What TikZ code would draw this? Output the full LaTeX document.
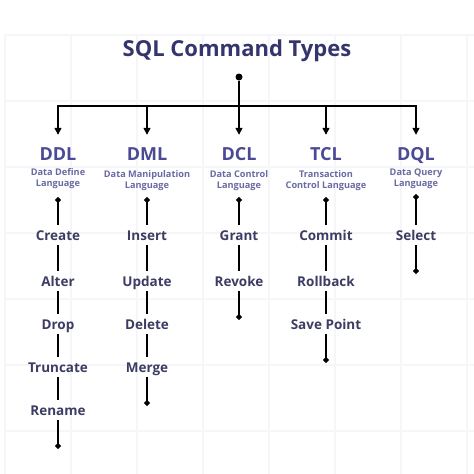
\documentclass[tikz,border=0pt]{standalone}
\usepackage{fontspec}
\setmainfont{Open Sans}
\usetikzlibrary{arrows.meta,shapes.geometric}
\definecolor{titlec}{HTML}{35356E}
\definecolor{hdrc}{HTML}{4A4A96}
\definecolor{itemc}{HTML}{3C3C64}
\definecolor{subc}{HTML}{6A6AA4}
\definecolor{gridc}{HTML}{F6F6F8}
\tikzset{
  titlenode/.style={font=\bfseries\fontsize{22}{24}\selectfont, text=titlec, inner sep=0},
  hdr/.style={font=\bfseries\fontsize{18}{20}\selectfont, text=hdrc, inner sep=0, text height=13pt, text depth=0pt},
  sub/.style={font=\bfseries\fontsize{9.2}{11}\selectfont, text=subc, align=center, inner sep=0},
  item/.style={font=\bfseries\fontsize{13.5}{16}\selectfont, text=itemc, inner sep=0, text height=10pt, text depth=0pt, minimum height=20pt},
  dia/.style={diamond, fill=black, inner sep=0, minimum size=6.5pt},
  rootdot/.style={circle, fill=black, inner sep=0, minimum size=7pt},
  link/.style={line width=1.4pt, black},
  arr/.style={link, -{Triangle[width=7pt,length=7pt]}, shorten >=12pt}
}
\begin{document}
\begin{tikzpicture}[x=1pt,y=-1pt]
\useasboundingbox (0,0) rectangle (474,474);
\fill[white] (0,0) rectangle (474,474);
% faint background grid
\foreach \x in {5,71,137,203,269,335,401,467} \draw[gridc, line width=1.5pt] (\x,35) -- (\x,474);
\foreach \y in {35,101,167,233,299,365,431} \draw[gridc, line width=1.5pt] (5,\y) -- (474,\y);

\node[titlenode] (title) at (237,51) {SQL Command Types};
\node[rootdot] (root) at (239,77) {};
\coordinate (bar) at (239,106);

% headers
\node[hdr] (ddl) at (58,153.5) {DDL};
\node[hdr] (dml) at (147,153.5) {DML};
\node[hdr] (dcl) at (239,153.5) {DCL};
\node[hdr] (tcl) at (326,153.5) {TCL};
\node[hdr] (dql) at (416,153.5) {DQL};

\draw[arr] (root) -- (dcl.north);
\draw[arr] (bar) -| (ddl.north);
\draw[arr] (bar) -| (dml.north);
\draw[arr] (bar) -| (tcl.north);
\draw[arr] (bar) -| (dql.north);

% sub labels
\node[sub] (ddls) at (58,178.5) {Data Define\\Language};
\node[sub] (dmls) at (147,180.5) {Data Manipulation\\Language};
\node[sub] (dcls) at (239,180.5) {Data Control\\Language};
\node[sub] (tcls) at (326,180.5) {Transaction\\Control Language};
\node[sub] (dqls) at (416,178.5) {Data Query\\Language};

% DDL column
\node[dia] (ddl0) at (58,200) {};
\node[item] (create) at (58,235) {Create};
\node[item] (alter) at (58,281) {Alter};
\node[item] (drop) at (58,324) {Drop};
\node[item] (truncate) at (58,367) {Truncate};
\node[item] (rename) at (58,410) {Rename};
\node[dia] (ddl9) at (58,446) {};
\draw[link] (ddl0.center) -- (create.north);
\draw[link] (create.south) -- (alter.north);
\draw[link] (alter.south) -- (drop.north);
\draw[link] (drop.south) -- (truncate.north);
\draw[link] (truncate.south) -- (rename.north);
\draw[link] (rename.south) -- (ddl9.center);

% DML column
\node[dia] (dml0) at (147,200) {};
\node[item] (insert) at (147,235) {Insert};
\node[item] (update) at (147,281) {Update};
\node[item] (delete) at (147,324) {Delete};
\node[item] (merge) at (147,367) {Merge};
\node[dia] (dml9) at (147,403) {};
\draw[link] (dml0.center) -- (insert.north);
\draw[link] (insert.south) -- (update.north);
\draw[link] (update.south) -- (delete.north);
\draw[link] (delete.south) -- (merge.north);
\draw[link] (merge.south) -- (dml9.center);

% DCL column
\node[dia] (dcl0) at (239,200) {};
\node[item] (grant) at (239,235) {Grant};
\node[item] (revoke) at (239,281) {Revoke};
\node[dia] (dcl9) at (239,317) {};
\draw[link] (dcl0.center) -- (grant.north);
\draw[link] (grant.south) -- (revoke.north);
\draw[link] (revoke.south) -- (dcl9.center);

% TCL column
\node[dia] (tcl0) at (326,200) {};
\node[item] (commit) at (326,235) {Commit};
\node[item] (rollback) at (326,281) {Rollback};
\node[item] (savepoint) at (326,324) {Save Point};
\node[dia] (tcl9) at (326,360) {};
\draw[link] (tcl0.center) -- (commit.north);
\draw[link] (commit.south) -- (rollback.north);
\draw[link] (rollback.south) -- (savepoint.north);
\draw[link] (savepoint.south) -- (tcl9.center);

% DQL column
\node[dia] (dql0) at (416,197) {};
\node[item] (select) at (416,235) {Select};
\node[dia] (dql9) at (416,271) {};
\draw[link] (dql0.center) -- (select.north);
\draw[link] (select.south) -- (dql9.center);
\end{tikzpicture}
\end{document}
